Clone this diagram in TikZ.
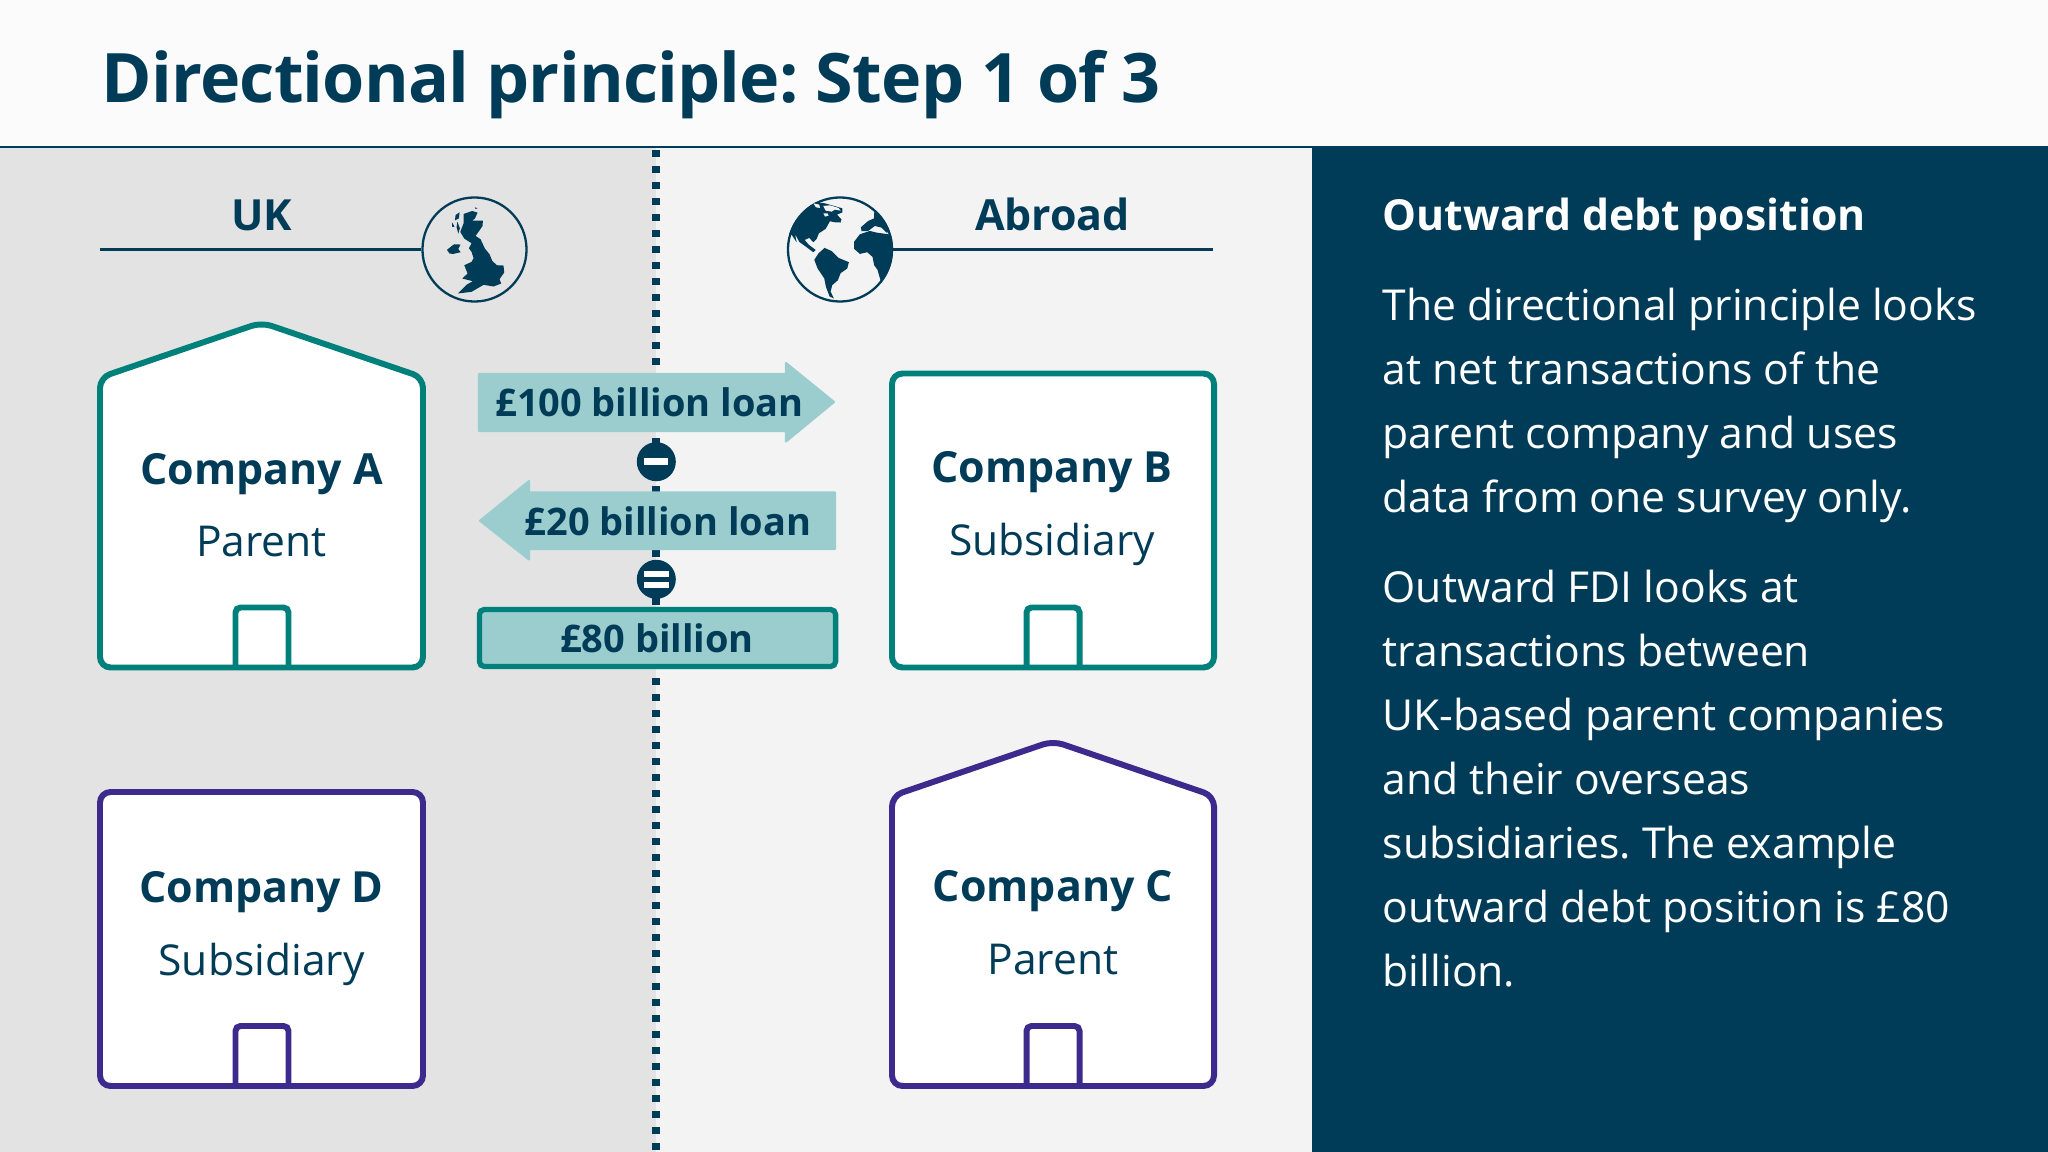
\documentclass[tikz,border=0pt]{standalone}
\usepackage{fontspec}
\setmainfont{Open Sans}
\usetikzlibrary{calc,positioning}
\definecolor{navy}{HTML}{003C57}
\definecolor{tealline}{HTML}{00807B}
\definecolor{tealpale}{HTML}{9BCDCE}
\definecolor{purpleline}{HTML}{3C2A8C}
\definecolor{panelUK}{HTML}{E3E3E4}
\definecolor{panelAbroad}{HTML}{F3F3F4}
\definecolor{headerbg}{HTML}{FBFBFC}
\tikzset{
	tealhouse/.style={draw=tealline,line width=1.7pt,fill=white,rounded corners=3pt},
	purplehouse/.style={draw=purpleline,line width=1.7pt,fill=white,rounded corners=3pt},
	tealdoor/.style={draw=tealline,line width=1.7pt,rounded corners=1.4pt},
	purpledoor/.style={draw=purpleline,line width=1.7pt,rounded corners=1.4pt},
	lblName/.style={anchor=base,inner sep=0,text=navy,font=\fontsize{12.2}{14}\selectfont\bfseries},
	lblRole/.style={anchor=base,inner sep=0,text=navy,font=\fontsize{12.1}{14}\selectfont},
	lblLoan/.style={anchor=base,inner sep=0,text=navy,font=\fontsize{10.8}{14}\selectfont\bfseries},
	globe/.style={circle,draw=navy,line width=0.65pt,minimum size=1.04cm,inner sep=0},
	headrule/.style={draw=navy,line width=0.6pt},
	opsign/.style={circle,fill=navy,minimum size=0.39cm,inner sep=0},
	loanarrow/.style={fill=tealpale,draw=tealpale,line width=0.6pt,line join=round},
}
\frenchspacing
\begin{document}
\begin{tikzpicture}[x=0.01cm,y=-0.01cm]
	\useasboundingbox (0,0) rectangle (2048,1152);
	\fill[headerbg] (0,0) rectangle (2048,147);
	\fill[panelUK] (0,147) rectangle (656,1152);
	\fill[panelAbroad] (656,147) rectangle (1312,1152);
	\fill[navy] (1312,147) rectangle (2048,1152);
	\draw[navy,line width=0.7pt] (0,147) -- (2048,147);

	\node[anchor=base west,inner sep=0,text=navy,font=\fontsize{19.4}{24}\selectfont\bfseries\addfontfeature{LetterSpace=-1.15}] (lblTitle) at (101,103) {Directional principle: Step 1 of 3};

	\coordinate (divTop) at (656,150);
	\coordinate (divBottom) at (656,1152);
	\draw[navy,line width=2pt,dash pattern=on 0.07cm off 0.09cm] (divTop) -- (divBottom);

	% headings
	\node[lblName] (lblUK) at (262,231) {UK};
	\node[lblName] (lblAbroad) at (1052.5,231) {Abroad};
	\node[globe] (ukGlobe) at (474.5,249.5) {};
	\node[globe] (worldGlobe) at (840,249.5) {};
	\coordinate (ukRule) at (100,249.5);
	\coordinate (abroadRule) at (1213,249.5);
	\draw[headrule] (ukRule) -- (ukGlobe.west);
	\draw[headrule] (worldGlobe.east) -- (abroadRule);

	% uk map
	\begin{scope}[shift={(415,190)},x=0.00333cm,y=-0.00333cm]
		\fill[navy] (146,72) -- (172,63) -- (188,68) -- (180,86) -- (172,92) -- (204,92) -- (203,108) -- (192,124) -- (182,138) -- (197,148) -- (210,176) -- (224,193) -- (232,213) -- (246,226) -- (266,227) -- (268,248) -- (254,268) -- (259,281) -- (236,290) -- (206,285) -- (170,306) -- (129,311) -- (156,284) -- (174,274) -- (142,266) -- (158,251) -- (148,226) -- (170,216) -- (176,205) -- (170,186) -- (162,175) -- (170,160) -- (148,146) -- (136,126) -- (146,100) -- cycle;
		\fill[navy] (96,180) -- (112,167) -- (118,163) -- (137,164) -- (130,177) -- (137,187) -- (115,192) -- (104,191) -- cycle;
		\fill[navy] (122,75) -- (134,67) -- (132,85) -- (120,91) -- cycle;
		\fill[navy] (111,97) -- (119,110) -- (112,111) -- cycle;
		\fill[navy] (127,95) -- (135,115) -- (130,131) -- (125,112) -- cycle;
		\fill[navy] (180,52) -- (188,55) -- (182,57) -- cycle;
	\end{scope}

	% world map
	\begin{scope}
		\clip (worldGlobe) circle (53);
		\begin{scope}[shift={(780,190)},x=0.00333cm,y=-0.00333cm]
			\fill[navy] (90,35) -- (135,40) -- (187,55) -- (188,98) -- (165,97) -- (150,94) -- (137,117) -- (117,130) -- (110,147) -- (100,157) -- (88,144) -- (74,150) -- (87,165) -- (107,180) -- (100,187) -- (80,172) -- (58,156) -- (45,132) -- (50,157) -- (36,136) -- (10,120) -- (10,60) -- (60,30) -- cycle;
			\fill[panelAbroad] (100,40) -- (118,44) -- (120,54) -- (108,52) -- cycle;
			\fill[panelAbroad] (130,48) -- (150,46) -- (176,54) -- (182,62) -- (165,59) -- (155,65) -- (137,62) -- cycle;
			\fill[panelAbroad] (130,70) -- (143,70) -- (146,77) -- (135,80) -- cycle;
			\fill[panelAbroad] (172,74) -- (192,66) -- (192,102) -- (182,98) -- (185,88) -- cycle;
			\fill[navy] (116,190) -- (134,174) -- (156,184) -- (176,204) -- (207,217) -- (202,236) -- (182,250) -- (174,271) -- (157,286) -- (152,305) -- (162,326) -- (149,320) -- (138,291) -- (133,266) -- (113,236) -- (103,210) -- cycle;
			\fill[navy] (223,155) -- (240,133) -- (270,123) -- (290,128) -- (325,133) -- (350,138) -- (350,230) -- (305,282) -- (293,240) -- (283,226) -- (278,201) -- (262,187) -- (240,192) -- (223,177) -- cycle;
			\fill[navy] (243,112) -- (265,93) -- (283,85) -- (283,68) -- (300,48) -- (332,90) -- (342,125) -- (320,128) -- (305,113) -- (285,108) -- (265,123) -- (245,124) -- cycle;
		\end{scope}
	\end{scope}

	% company a
	\coordinate (houseA) at (100,667.5);
	\draw[tealhouse] (houseA) -- ++(0,-290) -- ++(161.5,-55) -- ++(161.5,55) -- ++(0,290) -- cycle;
	\draw[tealdoor] ($(houseA)+(135.5,0)$) -- ++(0,-60) -- ++(53,0) -- ++(0,60);
	\node[lblName] (lblCompanyA) at ($(houseA)+(161.5,-182.5)$) {Company A};
	\node[lblRole] (lblRoleA) at ($(houseA)+(161.5,-111)$) {Parent};

	% company b
	\coordinate (houseB) at (892,667.5);
	\draw[tealhouse] (houseB) -- ++(0,-294) -- ++(322,0) -- ++(0,294) -- cycle;
	\draw[tealdoor] ($(houseB)+(134.5,0)$) -- ++(0,-60) -- ++(53,0) -- ++(0,60);
	\node[lblName] (lblCompanyB) at ($(houseB)+(160,-185)$) {Company B};
	\node[lblRole] (lblRoleB) at ($(houseB)+(160,-112.5)$) {Subsidiary};

	% company c
	\coordinate (houseC) at (892,1086);
	\draw[purplehouse] (houseC) -- ++(0,-290) -- ++(161,-55) -- ++(161,55) -- ++(0,290) -- cycle;
	\draw[purpledoor] ($(houseC)+(134.5,0)$) -- ++(0,-60) -- ++(53,0) -- ++(0,60);
	\node[lblName] (lblCompanyC) at ($(houseC)+(161,-184.5)$) {Company C};
	\node[lblRole] (lblRoleC) at ($(houseC)+(161,-112)$) {Parent};

	% company d
	\coordinate (houseD) at (100,1086);
	\draw[purplehouse] (houseD) -- ++(0,-294) -- ++(323,0) -- ++(0,294) -- cycle;
	\draw[purpledoor] ($(houseD)+(135.5,0)$) -- ++(0,-60) -- ++(53,0) -- ++(0,60);
	\node[lblName] (lblCompanyD) at ($(houseD)+(161.5,-184)$) {Company D};
	\node[lblRole] (lblRoleD) at ($(houseD)+(161.5,-110.5)$) {Subsidiary};

	% loans
	\draw[loanarrow] (479,374) -- (786,374) -- (786,363) -- (834,402) -- (786,441.5) -- (786,431) -- (479,431) -- cycle;
	\node[lblLoan] (lblLoanOut) at (649.5,417) {£100 billion loan};
	\node[opsign] (opMinus) at (656.3,461.7) {};
	\fill[white] ($(opMinus)+(-12,-3.3)$) rectangle ($(opMinus)+(12,3.3)$);
	\draw[loanarrow] (835,492.5) -- (529,492.5) -- (529,481) -- (480,520.7) -- (529,559.5) -- (529,549) -- (835,549) -- cycle;
	\node[lblLoan] (lblLoanIn) at (668,535) {£20 billion loan};
	\node[opsign] (opEquals) at (656.3,579.3) {};
	\fill[white] ($(opEquals)+(-12.3,-8.3)$) rectangle ($(opEquals)+(12.3,-2.3)$);
	\fill[white] ($(opEquals)+(-12.3,2.7)$) rectangle ($(opEquals)+(12.3,8.7)$);
	\node[draw=tealline,fill=tealpale,line width=1.5pt,rounded corners=1.4pt,minimum width=3.56cm,minimum height=0.57cm,inner sep=0] (boxNet) at (657.5,638) {};
	\node[lblLoan] (lblNet) at (657,652.5) {£80 billion};

	% text panel
	\node[anchor=base west,inner sep=0,text=white,font=\fontsize{12.16}{14}\selectfont\bfseries] (lblPanel) at (1382,230.5) {Outward debt position};
	\node[anchor=north west,inner sep=0,align=left,text=white,font=\fontsize{12.13}{18.2}\selectfont] (lblPanelA) at (1382,287.5) {The directional principle looks\\at net transactions of the\\parent company and uses\\data from one survey only.};
	\node[anchor=north west,inner sep=0,align=left,text=white,font=\fontsize{12.13}{18.2}\selectfont] (lblPanelB) at (1382,569.5) {Outward FDI looks at\\transactions between\\UK-based parent companies\\and their overseas\\subsidiaries. The example\\outward debt position is £80\\billion.};
\end{tikzpicture}
\end{document}
